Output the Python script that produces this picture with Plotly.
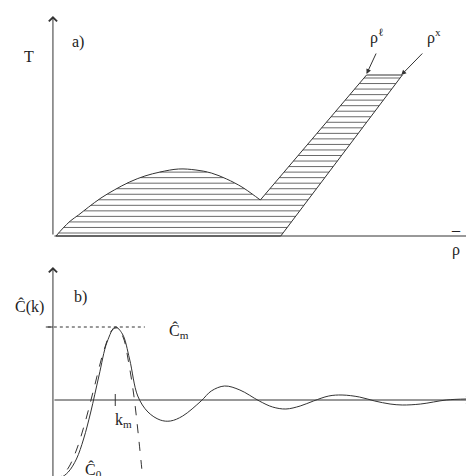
import numpy as np
import plotly.graph_objects as go

# panel a) boundaries (page pixel units, y down)
dome_x = [48, 55, 62, 70, 80, 92, 105, 120, 135, 150, 168, 185, 200, 215, 230, 240, 248]
dome_y = [222, 214, 207, 201, 193, 184, 176, 168, 162, 158, 155, 156, 159, 165, 173, 180, 186]
liq_x = [248, 352]          # rho^l line
liq_y = [186, 61]
sol_x = [268, 387]          # rho^x line
sol_y = [222, 61]

# panel b) curves
k_solid = [45, 52, 60, 68, 75, 82, 90, 98, 106, 113, 120, 128, 138, 150, 160, 172, 190, 200, 213,
           228, 247, 260, 273, 287, 300, 315, 328, 345, 360, 375, 387, 405, 430, 450]
c_solid = [465, 464, 458, 445, 425, 398, 362, 328, 313, 320, 345, 382, 398, 406, 407, 402, 387, 377, 372,
           376, 387, 393, 395, 392, 387, 382, 381, 383, 387, 390, 391, 390, 386, 385]
k_dash = [45, 52, 60, 68, 76, 85, 95, 103, 108, 114, 119, 124, 129, 134]
c_dash = [465, 463, 454, 436, 410, 375, 336, 316, 314, 324, 348, 380, 425, 476]

line = dict(color="#333", width=1)
fig = go.Figure()

# hatching
hx, hy = [], []
left_y, left_x = dome_y[:11][::-1], dome_x[:11][::-1]
right_y, right_x = dome_y[10:], dome_x[10:]
for y in np.linspace(64, 219, 29):
    xr = np.interp(y, sol_y[::-1], sol_x[::-1])
    if y >= liq_y[0]:
        xl = np.interp(y, left_y, left_x)
        hx += [xl, xr, None]; hy += [y, y, None]
    else:
        xl = np.interp(y, liq_y[::-1], liq_x[::-1])
        hx += [xl, xr, None]; hy += [y, y, None]
        if y > min(dome_y):
            a = np.interp(y, left_y, left_x)
            b = np.interp(y, right_y, right_x)
            hx += [a, b, None]; hy += [y, y, None]
fig.add_trace(go.Scatter(x=hx, y=hy, mode="lines", line=dict(color="#444", width=0.8)))

fig.add_trace(go.Scatter(x=dome_x, y=dome_y, mode="lines", line=dict(color="#333", width=1, shape="spline")))
fig.add_trace(go.Scatter(x=liq_x, y=liq_y, mode="lines", line=line))
fig.add_trace(go.Scatter(x=sol_x, y=sol_y, mode="lines", line=line))
fig.add_trace(go.Scatter(x=[liq_x[1], sol_x[1]], y=[liq_y[1], sol_y[1]], mode="lines", line=line))
fig.add_trace(go.Scatter(x=[48, 268], y=[222, 222], mode="lines", line=line))

fig.add_trace(go.Scatter(x=k_solid, y=c_solid, mode="lines", line=dict(color="#333", width=1, shape="spline")))
fig.add_trace(go.Scatter(x=k_dash, y=c_dash, mode="lines",
                         line=dict(color="#333", width=1, dash="dash", shape="spline")))
fig.add_trace(go.Scatter(x=[40, 135, None, 38, 70], y=[313, 313, None, 466, 466], mode="lines",
                         line=dict(color="#333", width=1, dash="dot")))
fig.add_trace(go.Scatter(x=[106, 106, None, 38, 45], y=[380, 392, None, 313, 313], mode="lines", line=line))

# axes with arrow heads
for x0, y0, x1, y1 in [(45, 222, 45, 2), (45, 222, 472, 222), (45, 476, 45, 253), (45, 386, 455, 386)]:
    fig.add_annotation(x=x1, y=y1, ax=x0, ay=y0, xref="x", yref="y", axref="x", ayref="y",
                       showarrow=True, arrowhead=4, arrowsize=1.6, arrowwidth=1, arrowcolor="#333", text="")
for x0, y0, x1, y1 in [(362, 38, 352, 60), (408, 38, 386, 61)]:
    fig.add_annotation(x=x1, y=y1, ax=x0, ay=y0, xref="x", yref="y", axref="x", ayref="y",
                       showarrow=True, arrowhead=2, arrowsize=1, arrowwidth=1, arrowcolor="#333", text="")

labels = [(22, 42, "T"), (70, 28, "a)"), (362, 22, "ρ<sup>ℓ</sup>"), (418, 22, "ρ<sup>x</sup>"),
          (440, 236, "ρ"), (440, 224, "¯"), (22, 292, "Ĉ(k)"), (72, 283, "b)"), (168, 317, "Ĉ<sub>m</sub>"),
          (114, 406, "k<sub>m</sub>"), (85, 456, "Ĉ<sub>0</sub>"), (462, 386, "k")]
for x, y, t in labels:
    fig.add_annotation(x=x, y=y, text=t, showarrow=False, xref="x", yref="y",
                       font=dict(family="Liberation Serif", size=16, color="#222"))

fig.update_layout(width=474, height=476, margin=dict(l=0, r=0, t=0, b=0), showlegend=False,
                  plot_bgcolor="white", paper_bgcolor="white")
fig.update_xaxes(range=[1, 465], visible=False)
fig.update_yaxes(range=[470, -6], visible=False)
fig.write_html("out.html")
